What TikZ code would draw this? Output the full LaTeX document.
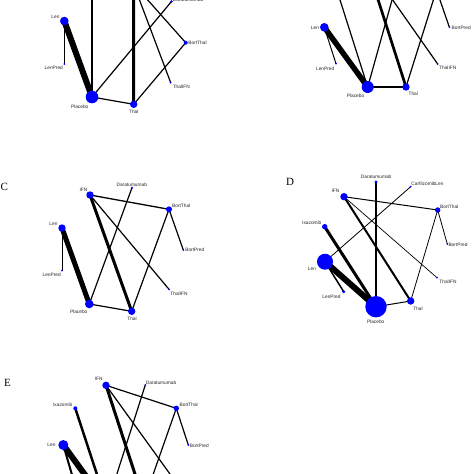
\documentclass[tikz,border=0pt]{standalone}
\usepackage{fontspec}
\newfontfamily\mylabfam{Liberation Sans}
\newfontfamily\myletfam{Liberation Serif}
\newcommand\mylabfont{\mylabfam\fontsize{4.8}{5}\selectfont}
\newcommand\myletfont{\myletfam\fontsize{11}{12}\selectfont}
\pgfdeclarelayer{edges}
\pgfsetlayers{edges,main}
\tikzset{
  dot/.style={circle,fill=blue,inner sep=0pt,minimum size=#1},
  lab/.style={font=\mylabfont,inner sep=0pt,text=black!85},
  panel/.style={font=\myletfont,inner sep=0pt,text=black},
  ed/.style={line width=#1,black}
}
\begin{document}
\begin{tikzpicture}[x=1pt,y=-1pt]
\useasboundingbox (0,0) rectangle (474,474);
\begin{scope}
\clip (0,0) rectangle (474,474);
% ---------- Panel A ----------
\coordinate (aX) at (92,-30);
\node[dot=7.4pt] (aIFN) at (133.5,-16) {};
\node[dot=2.6pt] (aDara) at (171.5,1.5) {};
\node[dot=8.6pt] (aLen) at (64.3,21) {};
\node[dot=2pt] (aLenPred) at (64.3,64) {};
\node[dot=12.6pt] (aPlacebo) at (92,97) {};
\node[dot=7.4pt] (aThal) at (133.7,104.3) {};
\node[dot=4pt] (aBortThal) at (185.7,42.7) {};
\node[dot=2pt] (aThalIFN) at (170.7,82.7) {};
\node[lab] (aDaraT) at (188,-0.5) {Daratumumab};
\node[lab] (aLenT) at (55.5,16.7) {Len};
\node[lab] (aLenPredT) at (53.8,68) {LenPred};
\node[lab] (aPlaceboT) at (79.7,106.7) {Placebo};
\node[lab] (aThalT) at (133.8,112) {Thal};
\node[lab] (aBortThalT) at (197.5,43) {BortThal};
\node[lab] (aThalIFNT) at (181.3,87) {ThalIFN};
% ---------- Panel B ----------
\coordinate (bIxa) at (330.5,-30);
\coordinate (bDara) at (404.6,-45);
\node[dot=7.4pt] (bIFN) at (366,-38) {};
\node[dot=5.4pt] (bBortThal) at (436.5,-10) {};
\node[dot=8.6pt] (bLen) at (324.3,27.3) {};
\node[dot=2pt] (bLenPred) at (336,63.7) {};
\node[dot=12pt] (bPlacebo) at (367.7,87) {};
\node[dot=7.4pt] (bThal) at (406,87) {};
\node[dot=2pt] (bThalIFN) at (437.7,64) {};
\node[dot=2pt] (bBortPred) at (449.3,27) {};
\node[lab] (bLenT) at (315,27.7) {Len};
\node[lab] (bLenPredT) at (325.2,68.3) {LenPred};
\node[lab] (bPlaceboT) at (355.5,96) {Placebo};
\node[lab] (bThalT) at (413.3,93.7) {Thal};
\node[lab] (bThalIFNT) at (447.7,68) {ThalIFN};
\node[lab] (bBortPredT) at (461.2,27.3) {BortPred};
% ---------- Panel C ----------
\node[panel] (cLetter) at (4.4,187) {C};
\node[dot=7.4pt] (cIFN) at (90,195) {};
\node[dot=2.4pt] (cDara) at (132,187.7) {};
\node[dot=6pt] (cBortThal) at (169,209.3) {};
\node[dot=2pt] (cBortPred) at (183.3,250) {};
\node[dot=7.4pt] (cLen) at (62,228) {};
\node[dot=2pt] (cLenPred) at (62,270.7) {};
\node[dot=2pt] (cThalIFN) at (169,289.3) {};
\node[dot=8.6pt] (cPlacebo) at (89.3,304) {};
\node[dot=7.4pt] (cThal) at (131.7,311.3) {};
\node[lab] (cIFNT) at (83.5,190) {IFN};
\node[lab] (cDaraT) at (131.8,184.3) {Daratumumab};
\node[lab] (cBortThalT) at (181.2,206) {BortThal};
\node[lab] (cBortPredT) at (194.8,250) {BortPred};
\node[lab] (cLenT) at (53.5,224.3) {Len};
\node[lab] (cLenPredT) at (51.7,275) {LenPred};
\node[lab] (cThalIFNT) at (179,294) {ThalIFN};
\node[lab] (cPlaceboT) at (78.7,311.7) {Placebo};
\node[lab] (cThalT) at (132,319) {Thal};
% ---------- Panel D ----------
\node[panel] (dLetter) at (290,182) {D};
\node[dot=3.4pt] (dDara) at (376,182) {};
\node[dot=2pt] (dCarf) at (410.7,186.7) {};
\node[dot=7.4pt] (dIFN) at (344,196.7) {};
\node[dot=5.4pt] (dBortThal) at (437.7,210) {};
\node[dot=2pt] (dBortPred) at (447.3,244) {};
\node[dot=5.4pt] (dIxa) at (324.7,226.7) {};
\node[dot=16pt] (dLen) at (325,261.7) {};
\node[dot=3.4pt] (dLenPred) at (343.7,291.7) {};
\node[dot=2pt] (dThalIFN) at (437,277.7) {};
\node[dot=7.4pt] (dThal) at (410.7,301) {};
\node[dot=21.4pt] (dPlacebo) at (376,306.7) {};
\node[lab] (dDaraT) at (376.2,176.7) {Daratumumab};
\node[lab] (dCarfT) at (427.5,184) {CarfilzomibLen};
\node[lab] (dIFNT) at (335.5,191) {IFN};
\node[lab] (dBortThalT) at (449.2,207) {BortThal};
\node[lab] (dBortPredT) at (458,244.7) {BortPred};
\node[lab] (dIxaT) at (311.8,222.3) {Ixazomib};
\node[lab] (dLenT) at (312,268.7) {Len};
\node[lab] (dLenPredT) at (331.5,296.7) {LenPred};
\node[lab] (dThalIFNT) at (448,282) {ThalIFN};
\node[lab] (dThalT) at (418,308.3) {Thal};
\node[lab] (dPlaceboT) at (375.7,321.7) {Placebo};
% ---------- Panel E ----------
\node[panel] (eLetter) at (7.5,383) {E};
\node[dot=7.4pt] (eIFN) at (106,385.3) {};
\node[dot=2pt] (eDara) at (145.3,385) {};
\node[dot=5.4pt] (eBortThal) at (176.3,408.3) {};
\node[dot=2pt] (eBortPred) at (188.3,445) {};
\node[dot=4pt] (eIxa) at (75.3,408.3) {};
\node[dot=10pt] (eLen) at (63.3,445) {};
\node[dot=16pt] (ePlacebo) at (107,505) {};
\node[dot=7.4pt] (eThal) at (143.8,501) {};
\node[dot=2pt] (eThalIFN) at (181.5,490) {};
\node[dot=3pt] (eLenPred) at (75,485) {};
\node[lab] (eIFNT) at (98.7,379.3) {IFN};
\node[lab] (eDaraT) at (161,382.3) {Daratumumab};
\node[lab] (eBortThalT) at (188.7,404.3) {BortThal};
\node[lab] (eBortPredT) at (199.3,445.3) {BortPred};
\node[lab] (eIxaT) at (62.7,404.3) {Ixazomib};
\node[lab] (eLenT) at (51.5,445) {Len};
\end{scope}
\begin{pgfonlayer}{edges}
\fill[white] (0,0) rectangle (474,474);
\clip (0,0) rectangle (474,474);
% A
\draw[ed=6pt] (aLen.center) -- (aPlacebo.center);
\draw[ed=1pt] (aLen.center) -- (aLenPred.center);
\draw[ed=1.3pt] (aPlacebo.center) -- (aX);
\draw[ed=3pt] (aIFN.center) -- (aThal.center);
\draw[ed=1.2pt] (aIFN.center) -- (aThalIFN.center);
\draw[ed=1.2pt] (aIFN.center) -- (aBortThal.center);
\draw[ed=1.2pt] (aPlacebo.center) -- (aDara.center);
\draw[ed=1.2pt] (aThal.center) -- (aBortThal.center);
\draw[ed=1.2pt] (aPlacebo.center) -- (aThal.center);
% B
\draw[ed=5.5pt] (bLen.center) -- (bPlacebo.center);
\draw[ed=1pt] (bLen.center) -- (bLenPred.center);
\draw[ed=1.2pt] (bPlacebo.center) -- (bIxa);
\draw[ed=1.2pt] (bPlacebo.center) -- (bDara);
\draw[ed=2.7pt] (bIFN.center) -- (bThal.center);
\draw[ed=1.2pt] (bIFN.center) -- (bThalIFN.center);
\draw[ed=1.2pt] (bThal.center) -- (bBortThal.center);
\draw[ed=1.2pt] (bBortThal.center) -- (bBortPred.center);
\draw[ed=1.2pt] (bPlacebo.center) -- (bThal.center);
% C
\draw[ed=1.3pt] (cIFN.center) -- (cBortThal.center);
\draw[ed=3pt] (cIFN.center) -- (cThal.center);
\draw[ed=1.2pt] (cIFN.center) -- (cThalIFN.center);
\draw[ed=1.2pt] (cDara.center) -- (cPlacebo.center);
\draw[ed=1.2pt] (cBortThal.center) -- (cBortPred.center);
\draw[ed=1.2pt] (cBortThal.center) -- (cThal.center);
\draw[ed=1pt] (cLen.center) -- (cLenPred.center);
\draw[ed=5pt] (cLen.center) -- (cPlacebo.center);
\draw[ed=1.2pt] (cPlacebo.center) -- (cThal.center);
% D
\draw[ed=1.7pt] (dDara.center) -- (dPlacebo.center);
\draw[ed=0.8pt] (dCarf.center) -- (dLen.center);
\draw[ed=1pt] (dIFN.center) -- (dBortThal.center);
\draw[ed=2pt] (dIFN.center) -- (dThal.center);
\draw[ed=0.7pt] (dIFN.center) -- (dThalIFN.center);
\draw[ed=0.8pt] (dBortThal.center) -- (dBortPred.center);
\draw[ed=0.8pt] (dBortThal.center) -- (dThal.center);
\draw[ed=3pt] (dIxa.center) -- (dPlacebo.center);
\draw[ed=6pt] (dLen.center) -- (dPlacebo.center);
\draw[ed=1.5pt] (dLen.center) -- (dLenPred.center);
\draw[ed=1pt] (dPlacebo.center) -- (dThal.center);
% E
\draw[ed=1.2pt] (eIFN.center) -- (eBortThal.center);
\draw[ed=1.2pt] (eBortThal.center) -- (eBortPred.center);
\draw[ed=3pt] (eIFN.center) -- (eThal.center);
\draw[ed=1.2pt] (eIFN.center) -- (eThalIFN.center);
\draw[ed=1.2pt] (eDara.center) -- (ePlacebo.center);
\draw[ed=1.2pt] (eBortThal.center) -- (eThal.center);
\draw[ed=2.5pt] (eIxa.center) -- (ePlacebo.center);
\draw[ed=6pt] (eLen.center) -- (ePlacebo.center);
\draw[ed=2pt] (eLen.center) -- (eLenPred.center);
\end{pgfonlayer}
\end{tikzpicture}
\end{document}
